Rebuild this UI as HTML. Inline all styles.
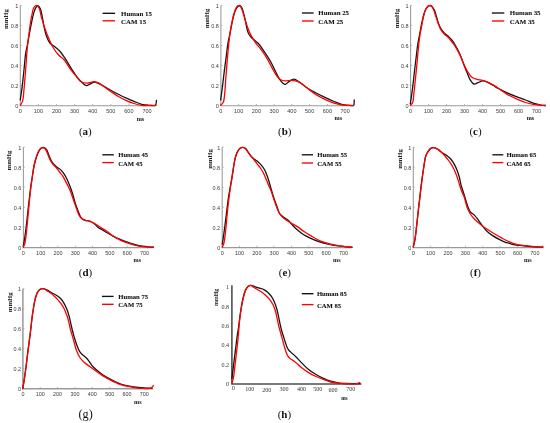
<!DOCTYPE html><html><head><meta charset="utf-8"><style>html,body{margin:0;padding:0;background:#fff;}svg{display:block;}.tk{font-family:"Liberation Sans",Arial,sans-serif;fill:#3a3a3a;}.sf{font-family:"Liberation Serif","Times New Roman",serif;}</style></head><body>
<svg width="550" height="423" viewBox="0 0 550 423">
<rect width="550" height="423" fill="#fff"/>
<g><path d="M20.30,5.50V105.70H156.05" fill="none" stroke="#999" stroke-width="1.05"/><path d="M20.30,105.40v-1.50M38.40,105.40v-1.50M56.50,105.40v-1.50M74.60,105.40v-1.50M92.70,105.40v-1.50M110.80,105.40v-1.50M128.90,105.40v-1.50M147.00,105.40v-1.50M20.30,105.40h1.50M20.30,85.42h1.50M20.30,65.44h1.50M20.30,45.46h1.50M20.30,25.48h1.50M20.30,5.50h1.50" stroke="#999" stroke-width="0.7" fill="none"/><text class="tk" x="18.30" y="108.08" font-size="5.50" text-anchor="end">0</text><text class="tk" x="18.30" y="88.10" font-size="5.50" text-anchor="end">0.2</text><text class="tk" x="18.30" y="68.12" font-size="5.50" text-anchor="end">0.4</text><text class="tk" x="18.30" y="48.14" font-size="5.50" text-anchor="end">0.6</text><text class="tk" x="18.30" y="28.16" font-size="5.50" text-anchor="end">0.8</text><text class="tk" x="18.30" y="8.18" font-size="5.50" text-anchor="end">1</text><text class="tk" x="20.30" y="113.00" font-size="5.50" text-anchor="middle">0</text><text class="tk" x="38.40" y="113.00" font-size="5.50" text-anchor="middle">100</text><text class="tk" x="56.50" y="113.00" font-size="5.50" text-anchor="middle">200</text><text class="tk" x="74.60" y="113.00" font-size="5.50" text-anchor="middle">300</text><text class="tk" x="92.70" y="113.00" font-size="5.50" text-anchor="middle">400</text><text class="tk" x="110.80" y="113.00" font-size="5.50" text-anchor="middle">500</text><text class="tk" x="128.90" y="113.00" font-size="5.50" text-anchor="middle">600</text><text class="tk" x="147.00" y="113.00" font-size="5.50" text-anchor="middle">700</text><text class="sf" font-weight="bold" font-size="6.70" fill="#222" text-anchor="middle" transform="translate(7.90,19.10) rotate(-90)">mmHg</text><text class="sf" font-weight="bold" font-size="6.20" fill="#111" x="136.70" y="120.50">ms</text><path d="M102.60,13.30H115.10" stroke="#111" stroke-width="1.35"/><path d="M102.60,20.80H115.10" stroke="#f00" stroke-width="1.35"/><text class="sf" font-weight="bold" font-size="7.14" fill="#111" stroke="#111" stroke-width="0.08" transform="translate(121.10,15.50) scale(0.965,1)">Human 15</text><text class="sf" font-weight="bold" font-size="7.14" fill="#111" stroke="#111" stroke-width="0.08" transform="translate(121.10,23.80) scale(0.965,1)">CAM 15</text><text class="sf" font-size="11.00" fill="#111" text-anchor="middle" transform="translate(85.30,134.50) scale(1.000,1)">(<tspan font-weight="bold">a</tspan>)</text><path d="M20.30,99.90 C20.93,95.37 21.61,91.06 22.20,86.30 C22.85,81.05 23.42,75.23 24.00,69.70 C24.58,64.17 24.99,57.64 25.70,53.10 C26.20,49.91 26.82,47.99 27.40,45.00 C28.11,41.33 28.86,36.67 29.60,32.70 C30.30,28.95 30.98,25.22 31.70,21.80 C32.35,18.73 32.94,15.62 33.70,13.10 C34.31,11.09 34.83,9.12 35.70,7.80 C36.35,6.81 37.26,5.54 38.00,5.60 C38.83,5.66 39.76,7.35 40.40,8.70 C41.31,10.62 41.62,13.60 42.20,16.40 C42.89,19.71 43.46,23.88 44.20,27.30 C44.87,30.38 45.45,33.35 46.40,36.00 C47.26,38.37 48.11,40.74 49.50,42.50 C50.77,44.11 52.57,44.93 54.20,46.30 C56.02,47.84 58.11,49.33 59.90,51.30 C61.91,53.52 63.67,56.36 65.50,59.10 C67.44,62.01 69.27,65.31 71.20,68.30 C73.07,71.21 74.90,74.26 76.90,76.80 C78.72,79.11 80.81,81.45 82.60,83.00 C83.93,84.15 85.12,85.46 86.40,85.60 C87.56,85.73 88.68,84.74 89.90,84.20 C91.29,83.59 92.80,82.18 94.30,82.10 C95.80,82.02 97.39,83.06 98.90,83.70 C100.45,84.36 101.79,85.07 103.50,86.00 C105.74,87.22 108.54,89.08 111.10,90.50 C113.64,91.91 116.23,93.22 118.80,94.50 C121.33,95.76 123.85,96.96 126.40,98.10 C128.92,99.23 131.45,100.27 134.00,101.30 C136.55,102.33 139.10,103.63 141.70,104.30 C144.20,104.94 146.90,105.14 149.30,105.30 C151.44,105.44 154.22,106.24 155.40,105.30 C156.46,104.46 156.13,102.10 156.50,100.50" fill="none" stroke="#151515" stroke-width="1.30" stroke-linejoin="round" stroke-linecap="round"/><path d="M20.30,105.20 C21.03,103.93 21.93,103.10 22.50,101.40 C23.45,98.57 23.55,93.56 24.00,89.30 C24.50,84.55 24.90,79.23 25.30,74.20 C25.70,69.17 26.01,64.05 26.40,59.10 C26.78,54.32 27.13,49.54 27.60,45.00 C28.04,40.76 28.58,36.67 29.10,32.70 C29.59,28.96 30.03,25.22 30.60,21.80 C31.11,18.73 31.70,15.66 32.30,13.10 C32.78,11.05 32.97,8.94 33.80,7.60 C34.44,6.58 35.45,5.37 36.30,5.40 C37.27,5.44 38.53,7.09 39.30,8.50 C40.36,10.43 40.43,13.57 41.20,16.40 C42.11,19.75 43.36,23.89 44.50,27.30 C45.53,30.38 46.66,33.43 47.70,36.00 C48.55,38.09 49.34,39.76 50.20,41.60 C51.05,43.42 51.66,45.09 52.80,47.00 C54.24,49.42 56.39,52.58 58.40,54.80 C60.19,56.77 62.32,57.78 64.10,59.80 C66.17,62.15 67.84,65.63 69.80,68.30 C71.65,70.82 73.58,73.11 75.50,75.40 C77.35,77.61 79.00,80.53 81.10,81.80 C82.84,82.86 84.90,83.20 86.80,83.20 C88.70,83.20 91.13,82.01 92.50,81.80 C93.26,81.69 93.57,81.61 94.30,81.70 C95.49,81.86 97.42,82.48 98.90,83.20 C100.49,83.98 101.78,85.11 103.50,86.30 C105.73,87.84 108.54,89.96 111.10,91.70 C113.64,93.43 116.20,95.20 118.80,96.70 C121.31,98.15 123.83,99.46 126.40,100.60 C128.90,101.72 131.43,102.71 134.00,103.50 C136.53,104.28 138.71,104.95 141.70,105.30 C145.75,105.77 151.37,105.30 156.20,105.30" fill="none" stroke="#f00" stroke-width="1.30" stroke-linejoin="round" stroke-linecap="round"/></g>
<g><path d="M220.90,5.50V105.80H354.02" fill="none" stroke="#999" stroke-width="1.05"/><path d="M220.90,105.50v-1.50M238.65,105.50v-1.50M256.40,105.50v-1.50M274.15,105.50v-1.50M291.90,105.50v-1.50M309.65,105.50v-1.50M327.40,105.50v-1.50M345.15,105.50v-1.50M220.90,105.50h1.50M220.90,85.50h1.50M220.90,65.50h1.50M220.90,45.50h1.50M220.90,25.50h1.50M220.90,5.50h1.50" stroke="#999" stroke-width="0.7" fill="none"/><text class="tk" x="218.90" y="108.18" font-size="5.50" text-anchor="end">0</text><text class="tk" x="218.90" y="88.18" font-size="5.50" text-anchor="end">0.2</text><text class="tk" x="218.90" y="68.18" font-size="5.50" text-anchor="end">0.4</text><text class="tk" x="218.90" y="48.18" font-size="5.50" text-anchor="end">0.6</text><text class="tk" x="218.90" y="28.18" font-size="5.50" text-anchor="end">0.8</text><text class="tk" x="218.90" y="8.18" font-size="5.50" text-anchor="end">1</text><text class="tk" x="220.90" y="113.10" font-size="5.50" text-anchor="middle">0</text><text class="tk" x="238.65" y="113.10" font-size="5.50" text-anchor="middle">100</text><text class="tk" x="256.40" y="113.10" font-size="5.50" text-anchor="middle">200</text><text class="tk" x="274.15" y="113.10" font-size="5.50" text-anchor="middle">300</text><text class="tk" x="291.90" y="113.10" font-size="5.50" text-anchor="middle">400</text><text class="tk" x="309.65" y="113.10" font-size="5.50" text-anchor="middle">500</text><text class="tk" x="327.40" y="113.10" font-size="5.50" text-anchor="middle">600</text><text class="tk" x="345.15" y="113.10" font-size="5.50" text-anchor="middle">700</text><text class="sf" font-weight="bold" font-size="6.70" fill="#222" text-anchor="middle" transform="translate(209.40,18.50) rotate(-90)">mmHg</text><text class="sf" font-weight="bold" font-size="6.20" fill="#111" x="334.50" y="120.30">ms</text><path d="M301.90,13.00H313.60" stroke="#111" stroke-width="1.35"/><path d="M301.90,21.00H313.60" stroke="#f00" stroke-width="1.35"/><text class="sf" font-weight="bold" font-size="7.14" fill="#111" stroke="#111" stroke-width="0.08" transform="translate(318.30,15.20) scale(0.965,1)">Human 25</text><text class="sf" font-weight="bold" font-size="7.14" fill="#111" stroke="#111" stroke-width="0.08" transform="translate(318.30,24.00) scale(0.965,1)">CAM 25</text><text class="sf" font-size="11.00" fill="#111" text-anchor="middle" transform="translate(284.70,134.70) scale(1.000,1)">(<tspan font-weight="bold">b</tspan>)</text><path d="M220.70,99.90 C221.30,95.37 221.91,90.95 222.50,86.30 C223.12,81.40 223.67,76.23 224.30,71.20 C224.93,66.16 225.69,60.86 226.30,56.10 C226.85,51.84 227.19,47.61 227.80,44.00 C228.30,41.05 228.92,38.88 229.50,36.00 C230.18,32.63 230.84,28.62 231.60,25.00 C232.34,21.45 233.06,17.52 234.00,14.50 C234.75,12.10 235.44,9.78 236.50,8.20 C237.30,7.00 238.40,5.56 239.30,5.50 C240.05,5.45 240.88,6.26 241.50,7.10 C242.45,8.38 242.96,10.90 243.60,13.10 C244.35,15.71 245.01,19.03 245.60,21.80 C246.13,24.31 246.44,26.86 247.00,29.00 C247.47,30.78 247.89,32.41 248.60,33.80 C249.23,35.03 250.04,36.03 250.90,37.00 C251.74,37.96 252.63,38.66 253.70,39.60 C255.05,40.79 256.86,41.86 258.40,43.50 C260.34,45.56 262.20,48.51 264.10,51.30 C266.20,54.37 268.50,57.83 270.40,61.20 C272.26,64.50 273.80,68.15 275.40,71.30 C276.82,74.10 278.07,77.07 279.50,79.20 C280.60,80.83 281.74,82.35 282.90,83.20 C283.75,83.83 284.57,84.42 285.50,84.30 C286.76,84.13 288.15,81.96 289.60,81.10 C290.99,80.28 292.51,79.15 294.00,79.20 C295.60,79.25 297.14,80.59 298.90,81.70 C301.22,83.16 303.78,85.69 306.50,87.50 C309.36,89.41 312.61,91.14 315.70,92.80 C318.74,94.44 321.83,95.94 324.90,97.40 C327.93,98.84 331.07,100.31 334.00,101.50 C336.65,102.58 339.11,103.65 341.70,104.30 C344.21,104.93 347.12,105.24 349.30,105.40 C350.93,105.52 352.76,106.15 353.60,105.40 C354.55,104.55 354.00,101.80 354.20,100.00" fill="none" stroke="#151515" stroke-width="1.30" stroke-linejoin="round" stroke-linecap="round"/><path d="M220.70,105.20 C221.57,104.20 222.65,103.61 223.30,102.20 C224.33,99.97 224.39,96.03 224.80,92.40 C225.31,87.90 225.52,82.26 225.90,77.20 C226.28,72.16 226.69,67.00 227.10,62.10 C227.49,57.45 227.85,53.03 228.30,48.50 C228.75,43.96 229.21,39.18 229.80,34.90 C230.33,31.06 230.91,27.53 231.60,24.00 C232.25,20.64 232.96,17.04 233.80,14.20 C234.47,11.93 235.11,9.73 236.00,8.20 C236.65,7.08 237.39,5.80 238.20,5.60 C238.88,5.43 239.77,5.90 240.40,6.50 C241.31,7.36 241.85,9.20 242.50,10.90 C243.32,13.06 243.92,15.96 244.70,18.50 C245.49,21.06 246.39,23.88 247.20,26.20 C247.88,28.14 248.45,29.77 249.20,31.50 C249.95,33.23 250.72,34.84 251.70,36.60 C252.81,38.59 254.11,40.71 255.60,42.80 C257.26,45.13 259.45,47.38 261.30,49.90 C263.26,52.57 265.24,55.46 267.00,58.40 C268.78,61.36 270.20,64.58 271.90,67.60 C273.60,70.61 275.40,74.31 277.20,76.50 C278.48,78.06 279.66,79.29 281.10,80.00 C282.42,80.65 283.86,80.73 285.40,80.80 C287.16,80.88 289.31,80.28 291.10,80.30 C292.69,80.32 294.11,80.40 295.60,80.80 C297.21,81.23 298.76,81.94 300.40,82.90 C302.38,84.06 304.26,85.81 306.50,87.50 C309.25,89.57 312.56,92.38 315.70,94.40 C318.70,96.32 321.80,97.92 324.90,99.40 C327.91,100.84 331.05,102.25 334.00,103.20 C336.64,104.05 338.86,104.62 341.70,105.00 C345.11,105.45 349.30,105.27 353.10,105.40" fill="none" stroke="#f00" stroke-width="1.30" stroke-linejoin="round" stroke-linecap="round"/></g>
<g><path d="M410.60,5.50V105.80H545.60" fill="none" stroke="#999" stroke-width="1.05"/><path d="M410.60,105.50v-1.50M428.60,105.50v-1.50M446.60,105.50v-1.50M464.60,105.50v-1.50M482.60,105.50v-1.50M500.60,105.50v-1.50M518.60,105.50v-1.50M536.60,105.50v-1.50M410.60,105.50h1.50M410.60,85.50h1.50M410.60,65.50h1.50M410.60,45.50h1.50M410.60,25.50h1.50M410.60,5.50h1.50" stroke="#999" stroke-width="0.7" fill="none"/><text class="tk" x="408.60" y="108.18" font-size="5.50" text-anchor="end">0</text><text class="tk" x="408.60" y="88.18" font-size="5.50" text-anchor="end">0.2</text><text class="tk" x="408.60" y="68.18" font-size="5.50" text-anchor="end">0.4</text><text class="tk" x="408.60" y="48.18" font-size="5.50" text-anchor="end">0.6</text><text class="tk" x="408.60" y="28.18" font-size="5.50" text-anchor="end">0.8</text><text class="tk" x="408.60" y="8.18" font-size="5.50" text-anchor="end">1</text><text class="tk" x="410.60" y="113.10" font-size="5.50" text-anchor="middle">0</text><text class="tk" x="428.60" y="113.10" font-size="5.50" text-anchor="middle">100</text><text class="tk" x="446.60" y="113.10" font-size="5.50" text-anchor="middle">200</text><text class="tk" x="464.60" y="113.10" font-size="5.50" text-anchor="middle">300</text><text class="tk" x="482.60" y="113.10" font-size="5.50" text-anchor="middle">400</text><text class="tk" x="500.60" y="113.10" font-size="5.50" text-anchor="middle">500</text><text class="tk" x="518.60" y="113.10" font-size="5.50" text-anchor="middle">600</text><text class="tk" x="536.60" y="113.10" font-size="5.50" text-anchor="middle">700</text><text class="sf" font-weight="bold" font-size="6.70" fill="#222" text-anchor="middle" transform="translate(399.00,18.50) rotate(-90)">mmHg</text><text class="sf" font-weight="bold" font-size="6.20" fill="#111" x="526.70" y="120.30">ms</text><path d="M491.90,13.00H504.30" stroke="#111" stroke-width="1.35"/><path d="M491.90,21.00H504.30" stroke="#f00" stroke-width="1.35"/><text class="sf" font-weight="bold" font-size="7.14" fill="#111" stroke="#111" stroke-width="0.08" transform="translate(509.80,15.20) scale(0.965,1)">Human 35</text><text class="sf" font-weight="bold" font-size="7.14" fill="#111" stroke="#111" stroke-width="0.08" transform="translate(509.80,24.00) scale(0.965,1)">CAM 35</text><text class="sf" font-size="11.00" fill="#111" text-anchor="middle" transform="translate(475.50,134.70) scale(1.000,1)">(<tspan font-weight="bold">c</tspan>)</text><path d="M410.30,103.70 C410.80,100.43 411.32,97.34 411.80,93.90 C412.33,90.08 412.81,85.95 413.30,81.80 C413.82,77.40 414.28,72.60 414.80,68.20 C415.29,64.05 415.80,60.13 416.30,56.10 C416.80,52.07 417.21,47.78 417.80,44.00 C418.33,40.63 418.98,37.75 419.60,34.50 C420.25,31.09 420.88,27.41 421.60,24.00 C422.29,20.75 422.88,17.31 423.80,14.50 C424.57,12.15 425.27,9.75 426.50,8.20 C427.51,6.93 428.99,5.38 430.20,5.50 C431.57,5.63 433.18,8.09 434.20,9.80 C435.31,11.67 435.69,14.15 436.40,16.40 C437.13,18.72 437.71,21.38 438.50,23.50 C439.17,25.31 439.79,26.87 440.70,28.40 C441.62,29.94 442.74,31.37 444.00,32.70 C445.30,34.08 447.01,35.19 448.40,36.50 C449.74,37.76 451.04,38.93 452.20,40.40 C453.45,41.98 454.45,43.69 455.60,45.70 C457.01,48.17 458.61,51.28 459.90,54.20 C461.21,57.17 462.22,60.34 463.40,63.40 C464.58,66.47 465.77,69.67 467.00,72.60 C468.14,75.32 469.17,78.38 470.50,80.40 C471.51,81.93 472.47,83.66 473.80,84.00 C475.14,84.34 476.97,82.94 478.50,82.40 C479.97,81.88 481.38,80.88 482.80,80.80 C484.15,80.73 485.39,81.25 486.80,81.80 C488.57,82.49 490.62,83.82 492.50,84.90 C494.39,85.99 495.98,87.13 498.10,88.30 C500.74,89.75 504.14,91.40 507.20,92.80 C510.24,94.19 513.32,95.49 516.40,96.70 C519.45,97.89 522.69,98.87 525.60,100.00 C528.27,101.04 530.63,102.34 533.20,103.20 C535.70,104.03 538.57,104.73 540.80,105.10 C542.51,105.39 543.87,105.37 545.40,105.50" fill="none" stroke="#151515" stroke-width="1.30" stroke-linejoin="round" stroke-linecap="round"/><path d="M410.30,105.20 C411.03,104.43 411.93,104.07 412.50,102.90 C413.54,100.76 413.53,96.23 414.00,92.40 C414.57,87.81 415.08,82.26 415.60,77.20 C416.12,72.16 416.61,67.21 417.10,62.10 C417.61,56.82 418.07,50.87 418.60,46.00 C419.04,41.95 419.43,38.58 420.00,34.90 C420.57,31.24 421.30,27.53 422.00,24.00 C422.67,20.64 423.28,17.04 424.10,14.20 C424.76,11.93 425.37,9.72 426.30,8.20 C426.99,7.07 427.77,5.93 428.70,5.60 C429.53,5.30 430.73,5.47 431.50,6.00 C432.45,6.66 432.95,8.33 433.60,9.80 C434.42,11.67 435.06,14.21 435.80,16.40 C436.53,18.58 437.19,20.74 438.00,22.90 C438.82,25.10 439.61,27.60 440.70,29.50 C441.65,31.16 442.74,32.47 444.00,33.80 C445.30,35.18 447.10,36.27 448.40,37.60 C449.61,38.84 450.54,40.16 451.60,41.50 C452.70,42.89 453.76,44.05 454.90,45.80 C456.48,48.22 458.38,51.76 459.90,54.90 C461.45,58.09 462.70,61.80 464.10,64.80 C465.30,67.39 466.33,69.77 467.70,71.90 C468.96,73.87 470.26,75.95 471.90,77.20 C473.37,78.32 475.15,78.77 476.90,79.30 C478.71,79.85 480.73,79.86 482.60,80.40 C484.50,80.95 486.34,81.78 488.20,82.60 C490.11,83.44 492.18,84.39 493.90,85.40 C495.44,86.31 496.43,87.16 498.10,88.30 C500.55,89.97 504.10,92.61 507.20,94.40 C510.20,96.13 513.31,97.54 516.40,98.90 C519.44,100.24 522.65,101.58 525.60,102.50 C528.22,103.32 530.65,103.87 533.20,104.30 C535.72,104.73 538.58,104.89 540.80,105.10 C542.52,105.27 543.87,105.37 545.40,105.50" fill="none" stroke="#f00" stroke-width="1.30" stroke-linejoin="round" stroke-linecap="round"/></g>
<g><path d="M23.40,147.20V247.60H153.15" fill="none" stroke="#999" stroke-width="1.05"/><path d="M23.40,247.30v-1.50M40.70,247.30v-1.50M58.00,247.30v-1.50M75.30,247.30v-1.50M92.60,247.30v-1.50M109.90,247.30v-1.50M127.20,247.30v-1.50M144.50,247.30v-1.50M23.40,247.30h1.50M23.40,227.28h1.50M23.40,207.26h1.50M23.40,187.24h1.50M23.40,167.22h1.50M23.40,147.20h1.50" stroke="#999" stroke-width="0.7" fill="none"/><text class="tk" x="21.40" y="249.98" font-size="5.50" text-anchor="end">0</text><text class="tk" x="21.40" y="229.96" font-size="5.50" text-anchor="end">0.2</text><text class="tk" x="21.40" y="209.94" font-size="5.50" text-anchor="end">0.4</text><text class="tk" x="21.40" y="189.92" font-size="5.50" text-anchor="end">0.6</text><text class="tk" x="21.40" y="169.90" font-size="5.50" text-anchor="end">0.8</text><text class="tk" x="21.40" y="149.88" font-size="5.50" text-anchor="end">1</text><text class="tk" x="23.40" y="254.90" font-size="5.50" text-anchor="middle">0</text><text class="tk" x="40.70" y="254.90" font-size="5.50" text-anchor="middle">100</text><text class="tk" x="58.00" y="254.90" font-size="5.50" text-anchor="middle">200</text><text class="tk" x="75.30" y="254.90" font-size="5.50" text-anchor="middle">300</text><text class="tk" x="92.60" y="254.90" font-size="5.50" text-anchor="middle">400</text><text class="tk" x="109.90" y="254.90" font-size="5.50" text-anchor="middle">500</text><text class="tk" x="127.20" y="254.90" font-size="5.50" text-anchor="middle">600</text><text class="tk" x="144.50" y="254.90" font-size="5.50" text-anchor="middle">700</text><text class="sf" font-weight="bold" font-size="6.70" fill="#222" text-anchor="middle" transform="translate(10.80,160.60) rotate(-90)">mmHg</text><text class="sf" font-weight="bold" font-size="6.20" fill="#111" x="133.60" y="262.40">ms</text><path d="M102.30,154.80H113.80" stroke="#111" stroke-width="1.35"/><path d="M102.30,162.60H113.80" stroke="#f00" stroke-width="1.35"/><text class="sf" font-weight="bold" font-size="6.94" fill="#111" stroke="#111" stroke-width="0.08" transform="translate(118.20,157.00) scale(0.965,1)">Human 45</text><text class="sf" font-weight="bold" font-size="6.94" fill="#111" stroke="#111" stroke-width="0.08" transform="translate(118.20,165.60) scale(0.965,1)">CAM 45</text><text class="sf" font-size="11.00" fill="#111" text-anchor="middle" transform="translate(85.50,276.30) scale(1.000,1)">(<tspan font-weight="bold">d</tspan>)</text><path d="M23.30,246.50 C23.80,243.43 24.32,240.59 24.80,237.30 C25.36,233.50 25.90,229.22 26.40,225.00 C26.93,220.54 27.38,215.81 27.90,211.20 C28.42,206.57 28.99,201.64 29.50,197.30 C29.95,193.47 30.31,190.07 30.80,186.50 C31.28,182.97 31.83,179.50 32.40,176.00 C32.97,172.50 33.43,168.91 34.20,165.50 C34.94,162.18 35.95,158.51 36.90,155.80 C37.61,153.77 38.25,151.99 39.10,150.60 C39.76,149.52 40.54,148.50 41.30,148.00 C41.85,147.64 42.41,147.51 43.00,147.50 C43.64,147.49 44.40,147.65 45.00,148.00 C45.65,148.38 46.17,148.98 46.70,149.80 C47.49,151.03 48.08,153.27 48.80,155.00 C49.52,156.74 50.15,158.61 51.00,160.20 C51.80,161.69 52.66,163.11 53.70,164.30 C54.68,165.43 55.84,166.28 57.00,167.20 C58.20,168.15 59.62,168.77 60.80,169.90 C62.14,171.18 63.45,173.01 64.50,174.60 C65.46,176.05 66.16,177.47 66.90,179.00 C67.67,180.59 68.31,182.31 69.00,184.00 C69.71,185.74 70.42,187.39 71.10,189.30 C71.89,191.50 72.67,194.08 73.40,196.50 C74.14,198.94 74.75,201.56 75.50,203.90 C76.19,206.04 76.95,208.02 77.70,210.00 C78.42,211.91 79.09,214.03 79.90,215.60 C80.55,216.85 81.11,217.99 82.00,218.80 C82.83,219.56 83.84,220.03 85.00,220.40 C86.38,220.84 88.30,220.49 89.80,221.00 C91.30,221.52 92.62,222.47 94.00,223.50 C95.56,224.67 97.05,226.68 98.60,227.80 C99.92,228.76 101.31,229.24 102.60,230.00 C103.84,230.74 104.77,231.45 106.20,232.30 C108.19,233.48 111.05,235.07 113.50,236.30 C115.89,237.50 118.28,238.58 120.70,239.60 C123.11,240.61 125.55,241.56 128.00,242.40 C130.42,243.23 132.86,243.96 135.30,244.60 C137.70,245.23 140.21,245.81 142.50,246.20 C144.56,246.55 146.50,246.73 148.40,246.90 C150.16,247.06 151.80,247.10 153.50,247.20" fill="none" stroke="#151515" stroke-width="1.30" stroke-linejoin="round" stroke-linecap="round"/><path d="M23.30,247.30 C23.80,246.03 24.37,245.12 24.80,243.50 C25.51,240.85 25.92,236.63 26.40,232.70 C26.97,228.03 27.40,222.55 27.90,217.30 C28.43,211.80 28.96,205.76 29.50,200.40 C29.99,195.54 30.46,190.82 31.00,186.50 C31.47,182.72 31.99,179.46 32.50,175.90 C33.02,172.29 33.36,168.49 34.10,165.00 C34.81,161.67 35.86,158.02 36.80,155.40 C37.48,153.50 38.03,151.90 38.90,150.60 C39.62,149.52 40.54,148.47 41.40,148.00 C42.05,147.64 42.76,147.43 43.40,147.60 C44.17,147.80 44.95,148.64 45.60,149.50 C46.47,150.65 47.10,152.58 47.80,154.20 C48.54,155.90 49.07,157.85 49.90,159.50 C50.69,161.07 51.57,162.59 52.60,163.90 C53.58,165.14 54.84,165.99 55.90,167.20 C57.04,168.50 58.08,170.06 59.20,171.50 C60.34,172.96 61.65,174.30 62.70,175.90 C63.80,177.58 64.68,179.65 65.60,181.40 C66.44,183.00 67.29,184.59 68.00,186.00 C68.60,187.19 69.03,187.97 69.60,189.30 C70.42,191.22 71.44,194.08 72.30,196.50 C73.17,198.94 73.98,201.56 74.80,203.90 C75.55,206.04 76.25,208.02 77.00,210.00 C77.72,211.91 78.22,214.08 79.20,215.60 C80.03,216.88 81.04,217.88 82.20,218.70 C83.37,219.52 84.77,219.98 86.20,220.50 C87.75,221.06 89.62,221.30 91.20,221.90 C92.71,222.48 94.04,223.15 95.50,224.00 C97.14,224.95 98.74,226.28 100.50,227.40 C102.39,228.61 104.46,229.62 106.50,231.00 C108.78,232.54 111.09,234.73 113.50,236.30 C115.83,237.82 118.25,239.16 120.70,240.30 C123.09,241.41 125.55,242.26 128.00,243.10 C130.42,243.93 132.86,244.71 135.30,245.30 C137.69,245.87 139.84,246.29 142.50,246.60 C145.77,246.98 149.83,247.00 153.50,247.20" fill="none" stroke="#f00" stroke-width="1.30" stroke-linejoin="round" stroke-linecap="round"/></g>
<g><path d="M222.20,147.20V247.60H352.17" fill="none" stroke="#999" stroke-width="1.05"/><path d="M222.20,247.30v-1.50M239.53,247.30v-1.50M256.86,247.30v-1.50M274.19,247.30v-1.50M291.52,247.30v-1.50M308.85,247.30v-1.50M326.18,247.30v-1.50M343.51,247.30v-1.50M222.20,247.30h1.50M222.20,227.28h1.50M222.20,207.26h1.50M222.20,187.24h1.50M222.20,167.22h1.50M222.20,147.20h1.50" stroke="#999" stroke-width="0.7" fill="none"/><text class="tk" x="220.20" y="249.98" font-size="5.50" text-anchor="end">0</text><text class="tk" x="220.20" y="229.96" font-size="5.50" text-anchor="end">0.2</text><text class="tk" x="220.20" y="209.94" font-size="5.50" text-anchor="end">0.4</text><text class="tk" x="220.20" y="189.92" font-size="5.50" text-anchor="end">0.6</text><text class="tk" x="220.20" y="169.90" font-size="5.50" text-anchor="end">0.8</text><text class="tk" x="220.20" y="149.88" font-size="5.50" text-anchor="end">1</text><text class="tk" x="222.20" y="254.90" font-size="5.50" text-anchor="middle">0</text><text class="tk" x="239.53" y="254.90" font-size="5.50" text-anchor="middle">100</text><text class="tk" x="256.86" y="254.90" font-size="5.50" text-anchor="middle">200</text><text class="tk" x="274.19" y="254.90" font-size="5.50" text-anchor="middle">300</text><text class="tk" x="291.52" y="254.90" font-size="5.50" text-anchor="middle">400</text><text class="tk" x="308.85" y="254.90" font-size="5.50" text-anchor="middle">500</text><text class="tk" x="326.18" y="254.90" font-size="5.50" text-anchor="middle">600</text><text class="tk" x="343.51" y="254.90" font-size="5.50" text-anchor="middle">700</text><text class="sf" font-weight="bold" font-size="6.70" fill="#222" text-anchor="middle" transform="translate(211.70,159.00) rotate(-90)">mmHg</text><text class="sf" font-weight="bold" font-size="6.20" fill="#111" x="333.10" y="262.40">ms</text><path d="M301.80,154.80H313.00" stroke="#111" stroke-width="1.35"/><path d="M301.80,163.00H313.00" stroke="#f00" stroke-width="1.35"/><text class="sf" font-weight="bold" font-size="6.94" fill="#111" stroke="#111" stroke-width="0.08" transform="translate(317.30,157.00) scale(0.965,1)">Human 55</text><text class="sf" font-weight="bold" font-size="6.94" fill="#111" stroke="#111" stroke-width="0.08" transform="translate(317.30,166.00) scale(0.965,1)">CAM 55</text><text class="sf" font-size="11.00" fill="#111" text-anchor="middle" transform="translate(284.90,276.40) scale(1.000,1)">(<tspan font-weight="bold">e</tspan>)</text><path d="M222.30,244.20 C222.80,240.87 223.31,237.71 223.80,234.20 C224.34,230.31 224.88,226.00 225.40,221.90 C225.92,217.80 226.38,213.70 226.90,209.60 C227.42,205.50 227.90,201.31 228.50,197.30 C229.07,193.45 229.77,189.66 230.40,186.00 C231.00,182.54 231.63,179.33 232.20,175.90 C232.79,172.34 233.29,168.37 233.90,165.00 C234.43,162.07 234.88,159.22 235.60,156.80 C236.20,154.78 236.84,152.91 237.70,151.40 C238.42,150.13 239.23,148.86 240.20,148.20 C241.01,147.65 242.00,147.35 242.90,147.40 C243.83,147.45 244.84,147.89 245.70,148.60 C246.83,149.53 247.69,151.60 248.70,153.00 C249.66,154.33 250.53,155.69 251.60,156.80 C252.61,157.84 253.79,158.64 254.90,159.50 C255.99,160.34 257.14,160.98 258.20,161.90 C259.34,162.89 260.47,164.04 261.50,165.30 C262.61,166.65 263.68,168.11 264.60,169.80 C265.64,171.72 266.51,174.14 267.30,176.30 C268.06,178.38 268.73,180.64 269.30,182.50 C269.76,184.00 270.04,185.00 270.50,186.60 C271.15,188.84 272.00,192.13 272.80,194.70 C273.54,197.08 274.33,199.31 275.10,201.50 C275.83,203.57 276.55,205.50 277.30,207.50 C278.05,209.50 278.44,211.82 279.60,213.50 C280.73,215.13 282.58,216.30 284.10,217.50 C285.52,218.62 287.08,219.32 288.40,220.50 C289.79,221.74 290.85,223.34 292.20,224.80 C293.66,226.37 295.20,228.09 296.90,229.60 C298.66,231.16 300.54,232.66 302.60,234.00 C304.76,235.41 307.02,236.59 309.60,237.80 C312.60,239.21 316.24,240.71 319.60,241.80 C322.87,242.86 326.30,243.60 329.50,244.30 C332.48,244.95 335.42,245.49 338.20,245.90 C340.73,246.27 343.14,246.48 345.50,246.70 C347.73,246.91 349.83,247.03 352.00,247.20" fill="none" stroke="#151515" stroke-width="1.30" stroke-linejoin="round" stroke-linecap="round"/><path d="M222.30,247.30 C222.80,246.03 223.37,245.12 223.80,243.50 C224.51,240.85 224.92,236.63 225.40,232.70 C225.97,228.03 226.38,222.43 226.90,217.30 C227.42,212.17 227.88,207.03 228.50,201.90 C229.12,196.76 229.91,191.15 230.60,186.50 C231.17,182.63 231.75,179.46 232.30,175.90 C232.85,172.29 233.32,168.37 233.90,165.00 C234.40,162.07 234.79,159.21 235.50,156.80 C236.08,154.81 236.77,153.01 237.60,151.50 C238.30,150.22 239.07,148.87 240.00,148.20 C240.75,147.66 241.66,147.37 242.50,147.40 C243.39,147.43 244.38,147.88 245.20,148.50 C246.19,149.26 246.94,150.73 247.80,151.90 C248.70,153.12 249.52,154.46 250.50,155.70 C251.52,156.99 252.72,158.17 253.80,159.50 C254.93,160.89 255.99,162.47 257.10,163.90 C258.19,165.30 259.35,166.49 260.40,168.00 C261.56,169.68 262.70,171.63 263.70,173.60 C264.74,175.65 265.59,177.95 266.50,180.10 C267.39,182.21 268.28,184.47 269.10,186.40 C269.80,188.06 270.43,189.28 271.10,191.00 C271.93,193.14 272.71,195.73 273.60,198.30 C274.60,201.19 275.64,204.70 276.80,207.50 C277.82,209.97 278.78,212.37 280.10,214.30 C281.26,216.00 282.56,217.30 284.10,218.60 C285.76,219.99 287.78,221.06 289.80,222.30 C292.02,223.66 294.57,224.90 296.90,226.40 C299.31,227.95 301.61,229.90 304.00,231.50 C306.34,233.06 308.53,234.40 311.10,235.90 C314.04,237.62 317.50,239.82 320.70,241.20 C323.63,242.46 326.55,243.25 329.50,244.00 C332.39,244.74 335.42,245.26 338.20,245.70 C340.73,246.10 343.14,246.35 345.50,246.60 C347.73,246.84 349.83,247.00 352.00,247.20" fill="none" stroke="#f00" stroke-width="1.30" stroke-linejoin="round" stroke-linecap="round"/></g>
<g><path d="M413.30,147.20V247.60H543.58" fill="none" stroke="#999" stroke-width="1.05"/><path d="M413.30,247.30v-1.50M430.67,247.30v-1.50M448.04,247.30v-1.50M465.41,247.30v-1.50M482.78,247.30v-1.50M500.15,247.30v-1.50M517.52,247.30v-1.50M534.89,247.30v-1.50M413.30,247.30h1.50M413.30,227.28h1.50M413.30,207.26h1.50M413.30,187.24h1.50M413.30,167.22h1.50M413.30,147.20h1.50" stroke="#999" stroke-width="0.7" fill="none"/><text class="tk" x="411.30" y="249.98" font-size="5.50" text-anchor="end">0</text><text class="tk" x="411.30" y="229.96" font-size="5.50" text-anchor="end">0.2</text><text class="tk" x="411.30" y="209.94" font-size="5.50" text-anchor="end">0.4</text><text class="tk" x="411.30" y="189.92" font-size="5.50" text-anchor="end">0.6</text><text class="tk" x="411.30" y="169.90" font-size="5.50" text-anchor="end">0.8</text><text class="tk" x="411.30" y="149.88" font-size="5.50" text-anchor="end">1</text><text class="tk" x="413.30" y="254.90" font-size="5.50" text-anchor="middle">0</text><text class="tk" x="430.67" y="254.90" font-size="5.50" text-anchor="middle">100</text><text class="tk" x="448.04" y="254.90" font-size="5.50" text-anchor="middle">200</text><text class="tk" x="465.41" y="254.90" font-size="5.50" text-anchor="middle">300</text><text class="tk" x="482.78" y="254.90" font-size="5.50" text-anchor="middle">400</text><text class="tk" x="500.15" y="254.90" font-size="5.50" text-anchor="middle">500</text><text class="tk" x="517.52" y="254.90" font-size="5.50" text-anchor="middle">600</text><text class="tk" x="534.89" y="254.90" font-size="5.50" text-anchor="middle">700</text><text class="sf" font-weight="bold" font-size="6.70" fill="#222" text-anchor="middle" transform="translate(401.60,159.00) rotate(-90)">mmHg</text><text class="sf" font-weight="bold" font-size="6.20" fill="#111" x="524.10" y="262.40">ms</text><path d="M492.40,154.80H503.30" stroke="#111" stroke-width="1.35"/><path d="M492.40,162.60H503.30" stroke="#f00" stroke-width="1.35"/><text class="sf" font-weight="bold" font-size="6.94" fill="#111" stroke="#111" stroke-width="0.08" transform="translate(506.40,157.00) scale(0.965,1)">Human 65</text><text class="sf" font-weight="bold" font-size="6.94" fill="#111" stroke="#111" stroke-width="0.08" transform="translate(506.40,165.60) scale(0.965,1)">CAM 65</text><text class="sf" font-size="11.00" fill="#111" text-anchor="middle" transform="translate(475.50,276.40) scale(1.000,1)">(<tspan font-weight="bold">f</tspan>)</text><path d="M413.30,246.50 C413.80,244.47 414.35,242.80 414.80,240.40 C415.43,237.03 415.90,232.33 416.40,228.10 C416.93,223.61 417.38,218.82 417.90,214.20 C418.42,209.59 418.98,205.01 419.50,200.40 C420.02,195.78 420.46,190.82 421.00,186.50 C421.47,182.72 421.99,179.46 422.50,175.90 C423.02,172.29 423.53,168.42 424.10,165.00 C424.61,161.93 424.87,158.76 425.70,156.30 C426.37,154.32 427.34,152.60 428.30,151.20 C429.07,150.07 429.82,149.00 430.80,148.40 C431.71,147.85 432.79,147.50 433.90,147.60 C435.26,147.72 436.89,148.74 438.30,149.60 C439.80,150.52 441.13,151.97 442.60,153.00 C444.03,154.00 445.67,154.74 447.00,155.70 C448.22,156.58 449.27,157.40 450.30,158.50 C451.45,159.73 452.49,161.16 453.50,162.80 C454.68,164.72 455.85,167.09 456.80,169.40 C457.79,171.81 458.60,174.41 459.30,177.00 C460.01,179.61 460.35,182.60 461.00,185.00 C461.54,187.02 462.18,188.58 462.80,190.50 C463.48,192.60 464.16,194.72 464.90,197.10 C465.77,199.91 466.68,203.66 467.70,206.30 C468.51,208.40 469.11,210.26 470.30,211.80 C471.44,213.27 473.27,214.03 474.60,215.40 C476.01,216.85 477.22,218.58 478.50,220.30 C479.85,222.11 481.04,224.13 482.50,226.00 C484.03,227.96 485.73,230.15 487.50,231.80 C489.11,233.30 490.72,234.37 492.60,235.60 C494.71,236.98 497.41,238.46 499.60,239.60 C501.47,240.57 503.16,241.45 504.90,242.10 C506.49,242.69 508.10,242.97 509.60,243.40 C510.99,243.80 511.99,244.26 513.60,244.60 C515.95,245.09 519.47,245.37 522.40,245.70 C525.31,246.03 527.99,246.36 531.10,246.60 C534.69,246.88 538.83,247.00 542.70,247.20" fill="none" stroke="#151515" stroke-width="1.30" stroke-linejoin="round" stroke-linecap="round"/><path d="M413.30,247.30 C413.80,245.00 414.34,243.04 414.80,240.40 C415.41,236.90 415.90,232.33 416.40,228.10 C416.93,223.61 417.38,218.82 417.90,214.20 C418.42,209.59 418.94,205.05 419.50,200.40 C420.07,195.65 420.77,190.38 421.30,186.00 C421.75,182.34 422.04,179.33 422.50,175.90 C422.97,172.33 423.53,168.42 424.10,165.00 C424.61,161.93 424.87,158.76 425.70,156.30 C426.37,154.32 427.34,152.60 428.30,151.20 C429.07,150.07 429.87,149.00 430.80,148.40 C431.59,147.89 432.49,147.60 433.40,147.60 C434.41,147.60 435.52,148.06 436.60,148.60 C437.89,149.24 439.30,150.38 440.50,151.40 C441.66,152.39 442.65,153.46 443.70,154.60 C444.82,155.81 445.92,157.15 447.00,158.50 C448.12,159.89 449.26,161.24 450.30,162.80 C451.43,164.49 452.52,166.36 453.50,168.30 C454.53,170.35 455.46,172.61 456.30,174.80 C457.13,176.97 457.84,179.30 458.50,181.40 C459.09,183.28 459.50,184.99 460.10,186.80 C460.73,188.68 461.48,190.71 462.20,192.50 C462.85,194.13 463.54,195.25 464.20,197.10 C465.15,199.75 465.89,204.03 467.00,207.00 C467.97,209.58 468.96,211.88 470.30,214.00 C471.58,216.03 473.12,217.79 474.80,219.50 C476.54,221.27 478.58,222.80 480.60,224.40 C482.70,226.07 484.93,227.74 487.20,229.30 C489.50,230.88 491.91,232.36 494.30,233.80 C496.67,235.23 499.03,236.57 501.50,237.90 C504.06,239.27 506.80,240.79 509.40,241.90 C511.80,242.92 513.97,243.77 516.50,244.40 C519.25,245.08 522.37,245.32 525.30,245.70 C528.21,246.08 531.20,246.45 534.00,246.70 C536.59,246.94 540.03,247.58 541.50,247.20 C542.19,247.02 542.43,246.60 542.90,246.30" fill="none" stroke="#f00" stroke-width="1.30" stroke-linejoin="round" stroke-linecap="round"/></g>
<g><path d="M22.90,288.70V388.80H153.03" fill="none" stroke="#9a9a9a" stroke-width="1.50"/><path d="M22.90,388.50v-1.50M40.25,388.50v-1.50M57.60,388.50v-1.50M74.95,388.50v-1.50M92.30,388.50v-1.50M109.65,388.50v-1.50M127.00,388.50v-1.50M144.35,388.50v-1.50M22.90,388.50h1.50M22.90,368.54h1.50M22.90,348.58h1.50M22.90,328.62h1.50M22.90,308.66h1.50M22.90,288.70h1.50" stroke="#9a9a9a" stroke-width="0.7" fill="none"/><text class="tk" x="20.90" y="391.14" font-size="5.40" text-anchor="end">0</text><text class="tk" x="20.90" y="371.18" font-size="5.40" text-anchor="end">0.2</text><text class="tk" x="20.90" y="351.22" font-size="5.40" text-anchor="end">0.4</text><text class="tk" x="20.90" y="331.26" font-size="5.40" text-anchor="end">0.6</text><text class="tk" x="20.90" y="311.30" font-size="5.40" text-anchor="end">0.8</text><text class="tk" x="20.90" y="291.34" font-size="5.40" text-anchor="end">1</text><text class="tk" x="22.90" y="396.10" font-size="5.40" text-anchor="middle">0</text><text class="tk" x="40.25" y="396.10" font-size="5.40" text-anchor="middle">100</text><text class="tk" x="57.60" y="396.10" font-size="5.40" text-anchor="middle">200</text><text class="tk" x="74.95" y="396.10" font-size="5.40" text-anchor="middle">300</text><text class="tk" x="92.30" y="396.10" font-size="5.40" text-anchor="middle">400</text><text class="tk" x="109.65" y="396.10" font-size="5.40" text-anchor="middle">500</text><text class="tk" x="127.00" y="396.10" font-size="5.40" text-anchor="middle">600</text><text class="tk" x="144.35" y="396.10" font-size="5.40" text-anchor="middle">700</text><text class="sf" font-weight="bold" font-size="6.70" fill="#222" text-anchor="middle" transform="translate(11.50,302.30) rotate(-90)">mmHg</text><text class="sf" font-weight="bold" font-size="6.20" fill="#111" x="134.10" y="404.20">ms</text><path d="M102.00,296.40H113.60" stroke="#111" stroke-width="1.35"/><path d="M102.00,304.30H113.60" stroke="#f00" stroke-width="1.35"/><text class="sf" font-weight="bold" font-size="6.94" fill="#111" stroke="#111" stroke-width="0.08" transform="translate(118.30,298.60) scale(0.965,1)">Human 75</text><text class="sf" font-weight="bold" font-size="6.94" fill="#111" stroke="#111" stroke-width="0.08" transform="translate(118.30,307.30) scale(0.965,1)">CAM 75</text><text class="sf" font-size="12.20" fill="#111" text-anchor="middle" transform="translate(85.60,418.40) scale(1.000,1)">(<tspan font-weight="normal">g</tspan>)</text><path d="M22.80,388.50 C23.30,385.43 23.79,382.68 24.30,379.30 C24.92,375.17 25.62,369.97 26.20,365.50 C26.75,361.28 27.17,357.42 27.70,353.20 C28.26,348.71 28.95,343.59 29.50,339.30 C29.97,335.61 30.39,332.45 30.80,329.00 C31.22,325.52 31.54,322.04 32.00,318.50 C32.47,314.87 33.02,310.97 33.60,307.50 C34.13,304.37 34.57,301.27 35.30,298.60 C35.92,296.32 36.53,294.06 37.50,292.40 C38.28,291.07 39.23,289.82 40.30,289.20 C41.20,288.68 42.24,288.51 43.30,288.60 C44.55,288.70 45.98,289.44 47.30,290.10 C48.74,290.81 50.14,291.98 51.60,292.80 C53.04,293.61 54.57,294.12 56.00,295.00 C57.51,295.93 59.13,297.02 60.40,298.30 C61.66,299.56 62.59,300.96 63.60,302.60 C64.78,304.52 65.96,306.88 66.90,309.20 C67.87,311.61 68.62,314.24 69.30,316.80 C69.98,319.34 70.46,322.15 71.00,324.50 C71.45,326.49 71.81,328.05 72.30,330.00 C72.86,332.22 73.47,334.64 74.20,337.10 C75.01,339.82 75.92,342.93 77.00,345.60 C78.01,348.11 78.96,350.80 80.40,352.70 C81.64,354.35 83.43,355.29 84.80,356.60 C86.08,357.83 87.27,358.92 88.40,360.30 C89.62,361.79 90.46,363.71 91.80,365.30 C93.25,367.02 95.12,368.62 96.90,370.20 C98.72,371.82 100.54,373.48 102.60,374.90 C104.76,376.39 106.97,377.55 109.60,378.90 C112.84,380.57 117.16,382.76 120.70,384.00 C123.75,385.07 126.56,385.61 129.50,386.20 C132.39,386.78 135.42,387.18 138.20,387.50 C140.73,387.79 143.14,387.97 145.50,388.10 C147.73,388.23 149.83,388.23 152.00,388.30" fill="none" stroke="#151515" stroke-width="1.30" stroke-linejoin="round" stroke-linecap="round"/><path d="M22.80,388.50 C23.30,385.43 23.79,382.68 24.30,379.30 C24.92,375.17 25.62,369.97 26.20,365.50 C26.75,361.28 27.17,357.42 27.70,353.20 C28.26,348.71 28.96,343.64 29.50,339.30 C29.98,335.47 30.38,332.08 30.80,328.50 C31.21,324.95 31.54,321.45 32.00,317.90 C32.47,314.29 33.01,310.42 33.60,307.00 C34.12,303.93 34.57,300.91 35.30,298.30 C35.92,296.09 36.54,293.89 37.50,292.30 C38.26,291.04 39.20,289.89 40.20,289.30 C41.03,288.82 41.97,288.61 42.90,288.70 C43.96,288.80 45.13,289.51 46.20,290.10 C47.33,290.73 48.34,291.55 49.50,292.40 C50.85,293.39 52.43,294.51 53.80,295.70 C55.19,296.91 56.58,298.25 57.80,299.60 C58.97,300.89 60.00,302.19 61.00,303.60 C62.03,305.05 63.04,306.54 63.90,308.20 C64.82,309.99 65.63,312.30 66.30,314.00 C66.81,315.31 67.18,316.15 67.60,317.50 C68.16,319.30 68.69,321.79 69.20,323.90 C69.69,325.96 70.01,327.73 70.60,330.00 C71.36,332.91 72.55,336.59 73.50,339.90 C74.45,343.22 75.16,346.84 76.30,349.90 C77.33,352.65 78.48,355.35 79.90,357.50 C81.13,359.36 82.52,360.73 84.10,362.20 C85.79,363.77 87.89,365.16 89.80,366.60 C91.69,368.03 93.48,369.37 95.50,370.80 C97.72,372.37 100.21,374.11 102.60,375.60 C104.91,377.04 106.96,378.26 109.60,379.60 C112.84,381.25 117.16,383.39 120.70,384.60 C123.75,385.64 126.56,386.11 129.50,386.70 C132.40,387.28 135.08,387.82 138.20,388.10 C141.78,388.42 147.76,388.55 149.80,388.30 C150.54,388.21 150.80,388.21 151.30,387.90 C152.03,387.45 152.77,386.23 153.50,385.40" fill="none" stroke="#f00" stroke-width="1.30" stroke-linejoin="round" stroke-linecap="round"/></g>
<g><path d="M231.90,285.20V384.00H361.43" fill="none" stroke="#505050" stroke-width="1.60"/><text class="sf" fill="#333" x="229.00" y="385.80" font-size="6.10" text-anchor="end">0</text><text class="sf" fill="#333" x="229.00" y="366.50" font-size="6.10" text-anchor="end">0.2</text><text class="sf" fill="#333" x="229.00" y="347.20" font-size="6.10" text-anchor="end">0.4</text><text class="sf" fill="#333" x="229.00" y="327.90" font-size="6.10" text-anchor="end">0.6</text><text class="sf" fill="#333" x="229.00" y="308.60" font-size="6.10" text-anchor="end">0.8</text><text class="sf" fill="#333" x="229.00" y="289.30" font-size="6.10" text-anchor="end">1</text><text class="sf" fill="#333" x="233.40" y="390.00" font-size="6.10" text-anchor="middle">0</text><text class="sf" fill="#333" x="249.70" y="391.00" font-size="6.10" text-anchor="middle">100</text><text class="sf" fill="#333" x="266.80" y="392.10" font-size="6.10" text-anchor="middle">200</text><text class="sf" fill="#333" x="284.00" y="391.30" font-size="6.10" text-anchor="middle">300</text><text class="sf" fill="#333" x="301.60" y="391.20" font-size="6.10" text-anchor="middle">400</text><text class="sf" fill="#333" x="317.70" y="391.40" font-size="6.10" text-anchor="middle">500</text><text class="sf" fill="#333" x="333.00" y="391.70" font-size="6.10" text-anchor="middle">600</text><text class="sf" fill="#333" x="350.70" y="391.40" font-size="6.10" text-anchor="middle">700</text><text class="sf" font-weight="bold" font-size="5.80" fill="#222" text-anchor="middle" transform="translate(217.70,297.50) rotate(-90)">mmHg</text><text class="sf" font-weight="bold" font-size="5.30" fill="#111" x="341.20" y="400.00">ms</text><path d="M301.80,293.70H313.50" stroke="#111" stroke-width="1.35"/><path d="M301.80,304.60H313.50" stroke="#f00" stroke-width="1.35"/><text class="sf" font-weight="bold" font-size="6.94" fill="#111" stroke="#111" stroke-width="0.08" transform="translate(316.90,295.90) scale(0.965,1)">Human 85</text><text class="sf" font-weight="bold" font-size="6.94" fill="#111" stroke="#111" stroke-width="0.08" transform="translate(316.90,307.60) scale(0.965,1)">CAM 85</text><text class="sf" font-size="11.00" fill="#111" text-anchor="middle" transform="translate(284.40,418.40) scale(1.000,1)">(<tspan font-weight="bold">h</tspan>)</text><path d="M231.90,378.50 C232.20,376.10 232.46,374.01 232.80,371.30 C233.24,367.79 233.80,363.22 234.30,359.20 C234.80,355.19 235.30,351.21 235.80,347.20 C236.30,343.18 236.79,338.62 237.30,335.10 C237.70,332.36 238.12,330.42 238.50,327.80 C238.93,324.78 239.25,321.35 239.70,318.00 C240.18,314.46 240.71,310.52 241.30,307.10 C241.82,304.03 242.33,301.20 243.00,298.40 C243.64,295.74 244.23,292.81 245.20,290.70 C245.96,289.05 246.83,287.51 247.90,286.60 C248.76,285.87 249.72,285.34 250.80,285.30 C252.11,285.25 253.73,286.43 255.20,286.90 C256.63,287.36 258.06,287.66 259.50,288.10 C260.96,288.55 262.52,288.90 263.90,289.60 C265.32,290.32 266.69,291.31 267.90,292.40 C269.13,293.51 270.22,294.80 271.20,296.20 C272.23,297.66 273.06,299.20 273.90,301.00 C274.89,303.12 275.84,305.66 276.60,308.20 C277.42,310.94 277.97,314.05 278.60,316.90 C279.20,319.65 279.77,322.63 280.30,325.00 C280.72,326.87 281.02,328.23 281.50,330.00 C282.06,332.03 282.81,334.29 283.50,336.50 C284.21,338.79 285.01,341.50 285.70,343.50 C286.23,345.03 286.66,346.34 287.20,347.50 C287.64,348.45 288.00,349.21 288.60,350.00 C289.25,350.86 290.06,351.51 291.00,352.40 C292.27,353.60 294.01,354.96 295.60,356.50 C297.46,358.30 299.34,360.53 301.40,362.60 C303.65,364.85 306.09,367.48 308.60,369.50 C310.97,371.41 313.48,373.00 316.00,374.50 C318.45,375.96 320.99,377.27 323.50,378.40 C325.90,379.48 328.26,380.46 330.70,381.20 C333.10,381.92 335.56,382.42 338.00,382.80 C340.42,383.18 342.87,383.35 345.30,383.50 C347.71,383.65 350.09,383.67 352.50,383.70 C354.92,383.73 357.37,383.70 359.80,383.70" fill="none" stroke="#151515" stroke-width="1.30" stroke-linejoin="round" stroke-linecap="round"/><path d="M231.90,383.40 C232.43,381.40 233.04,379.77 233.50,377.40 C234.14,374.08 234.50,369.45 235.00,365.30 C235.53,360.90 236.08,356.23 236.60,351.70 C237.12,347.17 237.69,342.41 238.10,338.10 C238.47,334.22 238.68,330.50 239.00,327.00 C239.29,323.84 239.51,321.14 239.90,318.00 C240.33,314.54 240.91,310.52 241.50,307.10 C242.02,304.03 242.53,301.20 243.20,298.40 C243.84,295.74 244.43,292.81 245.40,290.70 C246.16,289.05 247.08,287.49 248.10,286.60 C248.87,285.93 249.71,285.36 250.60,285.40 C251.68,285.45 252.87,286.75 254.10,287.50 C255.48,288.34 257.04,289.30 258.50,290.20 C259.94,291.10 261.45,291.90 262.80,292.90 C264.15,293.90 265.38,295.00 266.60,296.20 C267.88,297.46 269.19,298.81 270.30,300.30 C271.44,301.83 272.44,303.49 273.30,305.30 C274.22,307.24 274.93,309.31 275.60,311.60 C276.36,314.22 276.90,317.50 277.50,320.20 C278.03,322.60 278.44,324.77 279.00,327.00 C279.55,329.20 280.18,331.26 280.80,333.50 C281.47,335.91 282.25,338.59 282.90,341.00 C283.51,343.24 284.00,345.47 284.60,347.50 C285.14,349.31 285.70,351.06 286.30,352.60 C286.81,353.92 287.23,355.18 287.90,356.20 C288.49,357.11 289.22,357.84 290.00,358.50 C290.76,359.14 291.62,359.51 292.50,360.10 C293.51,360.79 294.51,361.45 295.70,362.40 C297.36,363.72 299.35,365.76 301.40,367.40 C303.62,369.17 306.13,371.07 308.60,372.60 C311.00,374.09 313.54,375.36 316.00,376.50 C318.34,377.58 320.60,378.40 323.00,379.30 C325.50,380.24 328.14,381.36 330.70,382.00 C333.14,382.61 335.56,382.83 338.00,383.10 C340.43,383.37 342.58,383.50 345.30,383.60 C348.72,383.73 354.35,384.19 356.90,383.70 C358.22,383.44 358.83,382.90 359.80,382.50" fill="none" stroke="#f00" stroke-width="1.30" stroke-linejoin="round" stroke-linecap="round"/></g>
</svg></body></html>
